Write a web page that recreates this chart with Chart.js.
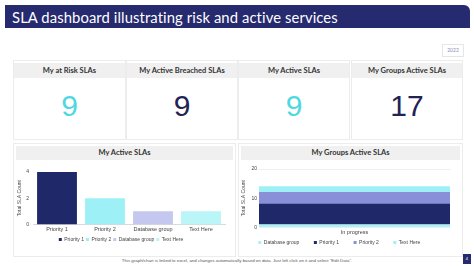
<!DOCTYPE html>
<html>
<head>
<meta charset="utf-8">
<script src="https://cdn.jsdelivr.net/npm/chart.js@4.4.0/dist/chart.umd.min.js"></script>
<style>
  html, body { margin: 0; padding: 0; background: #fff; }
  body { width: 474px; height: 266px; position: relative; overflow: hidden; font-family: "Lato", sans-serif; }
  .title-bar { position: absolute; left: 5px; top: 5px; width: 465px; height: 23px; background: #262a6e; border-top-right-radius: 6px; }
  .title-bar span { position: absolute; left: 7px; top: 3px; color: #fff; font-size: 14.8px; letter-spacing: 0.1px; }
  .year { position: absolute; left: 442px; top: 44px; width: 20px; height: 11px; border: 1px solid #e6e6e6; font-size: 5px; color: #8a8fb8; text-align: center; line-height: 11px; }
  .card { position: absolute; top: 60px; height: 78px; border: 1px solid #ececec; background: #fff; }
  .card .hd { height: 15px; margin-top: 2px; background: #f0f0f0; font-size: 7.5px; font-weight: bold; color: #333; text-align: center; line-height: 15px; }
  .card .num { text-align: center; font-size: 30px; font-family: "Liberation Sans", sans-serif; margin-top: 11px; }
  .panel { position: absolute; top: 143px; height: 112px; border: 1px solid #ececec; background: #fff; }
  .panel .hd { height: 14px; margin: 2px 2px 0 2px; background: #f0f0f0; font-size: 7.5px; font-weight: bold; color: #333; text-align: center; line-height: 14px; }
  .panel .cv { position: absolute; left: 0; top: 16px; right: 0; bottom: 0; }
  .footer { position: absolute; left: 0; width: 474px; top: 258px; text-align: center; font-size: 4.4px; color: #555; font-family: "Liberation Sans", sans-serif; }
  .pg { position: absolute; left: 463px; top: 254px; width: 8px; height: 10px; background: #262a6e; color: #fff; font-size: 4px; text-align: center; line-height: 10px; }
</style>
</head>
<body>
<div class="title-bar"><span>SLA dashboard illustrating risk and active services</span></div>
<div class="year">2022</div>
<div id="cards"></div>
<div class="panel" style="left:13px; width:221px;">
  <div class="hd">My Active SLAs</div>
  <div class="cv"><canvas id="activeChart"></canvas></div>
</div>
<div class="panel" style="left:238px; width:223px;">
  <div class="hd">My Groups Active SLAs</div>
  <div class="cv"><canvas id="groupChart"></canvas></div>
</div>
<div class="footer">This graph/chart is linked to excel, and changes automatically based on data. Just left click on it and select "Edit Data".</div>
<div class="pg">4</div>
<script>
// KPI cards
const kpiTitles = ['My at Risk SLAs', 'My Active Breached SLAs', 'My Active SLAs', 'My Groups Active SLAs'];
const kpiValues = [9, 9, 9, 17];

// My Active SLAs
const activeLabels = ['Priority 1', 'Priority 2', 'Database group', 'Text Here'];
const activeCounts = [4, 2, 1, 1];
const yTicksActive = [0, 2, 4];

// My Groups Active SLAs
const groupCategory = ['In progress'];
const groupSeries = ['Database group', 'Priority 1', 'Priority 2', 'Text Here'];
const groupCounts = [1, 7, 4, 2];
const yTicksGroup = [0, 10, 20];

const kpiColors = ['#4fd8e0', '#1f2356', '#4fd8e0', '#1f2356'];
const cardLeft = [13, 126, 238, 351];
const cardWidth = [111, 110, 110, 110];
const cardsEl = document.getElementById('cards');
kpiTitles.forEach((t, i) => {
    const c = document.createElement('div');
    c.className = 'card';
    c.style.left = cardLeft[i] + 'px';
    c.style.width = cardWidth[i] + 'px';
    c.innerHTML = '<div class="hd">' + t + '</div><div class="num" style="color:' + kpiColors[i] + '">' + kpiValues[i] + '</div>';
    cardsEl.appendChild(c);
});

Chart.defaults.font.family = '"Liberation Sans", sans-serif';
Chart.defaults.color = '#444';
Chart.defaults.animation = false;

const activeColors = ['#1f2868', '#9cf0f6', '#c4c8ee', '#baf5f7'];
const groupColors = ['#aef0f5', '#1f2868', '#8a90d8', '#9cf0f6'];

// one dataset per category so each gets its own legend entry
const activeSets = activeLabels.map((lab, i) => ({
    label: lab,
    data: activeLabels.map((_, j) => (j === i ? activeCounts[i] : null)),
    backgroundColor: activeColors[i],
    barPercentage: 0.83,
    categoryPercentage: 1
}));

new Chart(document.getElementById('activeChart'), {
    type: 'bar',
    data: { labels: activeLabels, datasets: activeSets },
    options: {
        responsive: true,
        maintainAspectRatio: false,
        layout: { padding: { left: 3, right: 10, top: 12, bottom: 4 } },
        scales: {
            x: {
                stacked: true,
                grid: { display: false, drawTicks: false },
                border: { color: '#d9d9d9' },
                ticks: { font: { size: 5.5 }, padding: 2 }
            },
            y: {
                stacked: true,
                min: 0, max: 4,
                afterBuildTicks: (ax) => { ax.ticks = yTicksActive.map(v => ({ value: v })); },
                afterFit: (ax) => { ax.width = 16; },
                grid: { display: false, drawTicks: false },
                border: { display: false },
                ticks: { font: { size: 5 }, padding: 4 },
                title: { display: true, text: 'Total SLA Count', font: { size: 5 }, padding: 0 }
            }
        },
        plugins: {
            legend: {
                position: 'bottom',
                labels: { boxWidth: 3, boxHeight: 3, padding: 2, font: { size: 5 }, usePointStyle: true, pointStyle: 'rect' }
            },
            tooltip: { enabled: false }
        }
    }
});

const groupSets = groupSeries.map((lab, i) => ({
    label: lab,
    data: [groupCounts[i]],
    backgroundColor: groupColors[i],
    barPercentage: 1,
    categoryPercentage: 1
}));

new Chart(document.getElementById('groupChart'), {
    type: 'bar',
    data: { labels: groupCategory, datasets: groupSets },
    options: {
        responsive: true,
        maintainAspectRatio: false,
        layout: { padding: { left: 2, right: 12, top: 9, bottom: 1 } },
        scales: {
            x: {
                stacked: true,
                grid: { display: false, drawTicks: false },
                border: { display: false },
                ticks: { font: { size: 5.5 }, padding: 2 }
            },
            y: {
                stacked: true,
                min: 0, max: 20,
                afterBuildTicks: (ax) => { ax.ticks = yTicksGroup.map(v => ({ value: v })); },
                afterFit: (ax) => { ax.width = 18; },
                grid: { color: '#efefef', drawTicks: false },
                border: { display: false },
                ticks: { font: { size: 5 }, padding: 2 },
                title: { display: true, text: 'Total SLA Count', font: { size: 5 }, padding: 0 }
            }
        },
        plugins: {
            legend: {
                position: 'bottom',
                labels: {
                    boxWidth: 3, boxHeight: 3, padding: 2, font: { size: 5 }, usePointStyle: true, pointStyle: 'rect',
                    // wider gaps between entries without extra vertical padding
                    generateLabels: (chart) => Chart.defaults.plugins.legend.labels.generateLabels(chart)
                        .map(item => Object.assign(item, { text: item.text + '\u2002\u2002\u2002\u2002\u2002' }))
                }
            },
            tooltip: { enabled: false }
        }
    }
});
</script>
</body>
</html>
